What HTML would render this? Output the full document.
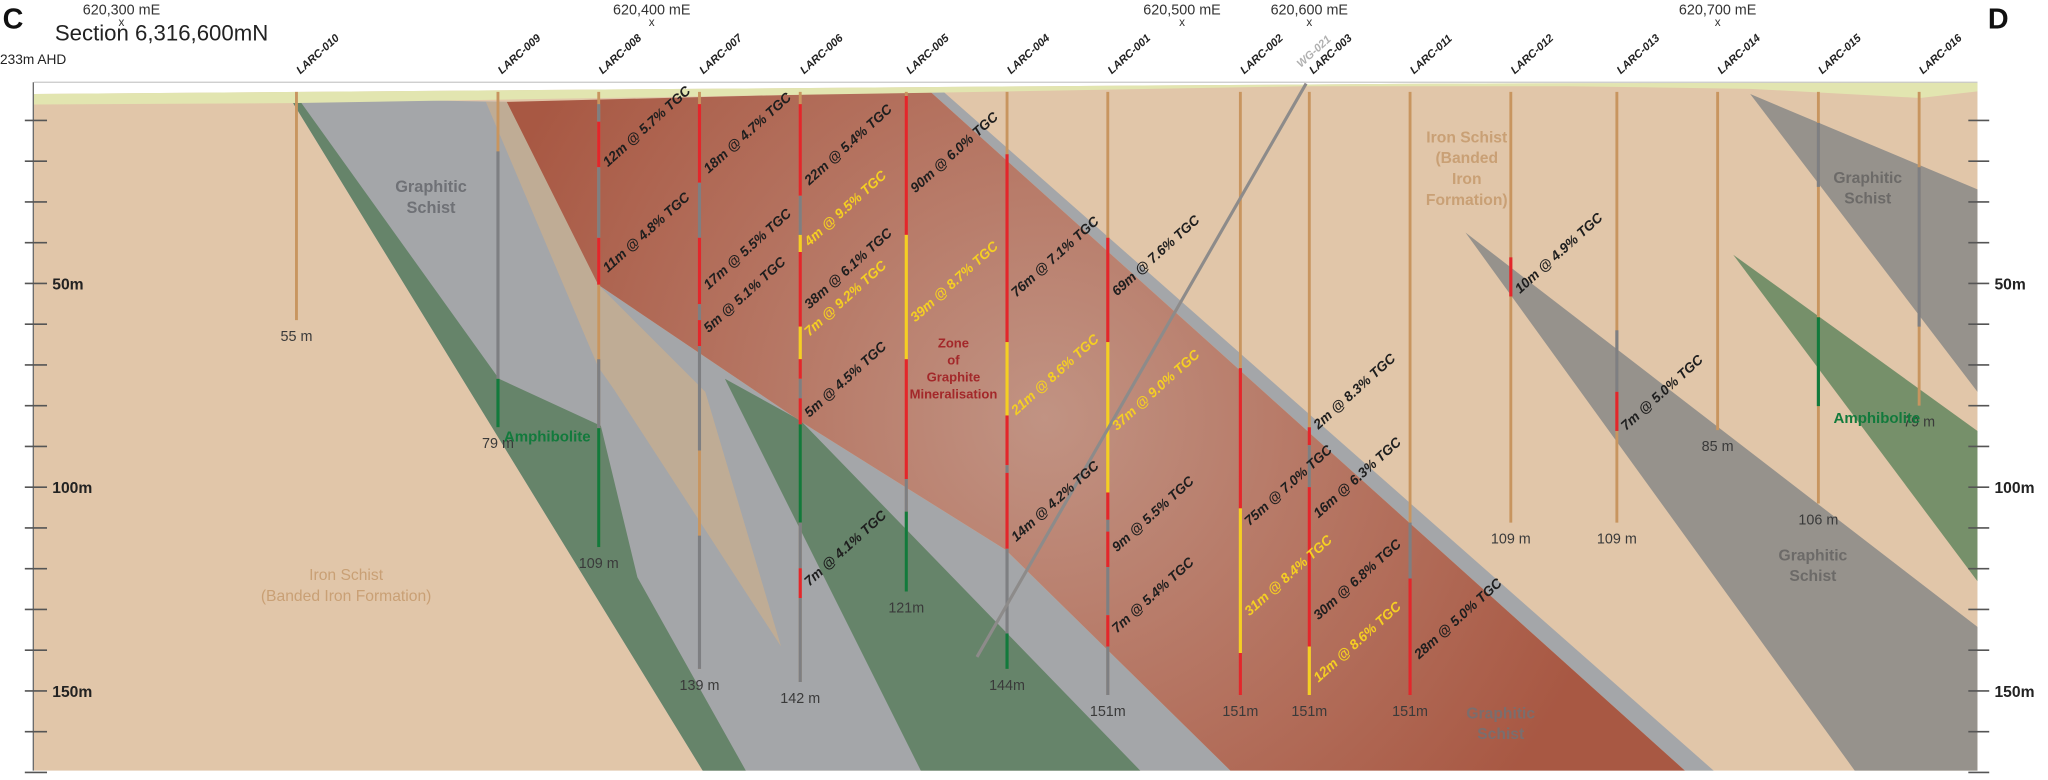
<!DOCTYPE html>
<html><head><meta charset="utf-8"><title>Section 6,316,600mN</title>
<style>
html,body{margin:0;padding:0;background:#fff;}
svg{display:block;}
text{font-family:"Liberation Sans",sans-serif;}
</style></head>
<body>
<svg id="sec" width="2048" height="780" viewBox="0 0 1568 597.2" preserveAspectRatio="none" xmlns="http://www.w3.org/2000/svg">
<defs>
<radialGradient id="redg" gradientUnits="userSpaceOnUse" cx="800" cy="320" r="450">
<stop offset="0" stop-color="#c19383"/><stop offset="0.55" stop-color="#b4725f"/><stop offset="1" stop-color="#a85843"/>
</radialGradient>
</defs>
<rect x="26" y="63" width="1488" height="527" fill="#e1c6a9"/>
<polygon fill="#a4a6a9" points="222,75 388,78 458,218 615,324 770,421 942,590 538,590"/>
<polygon fill="#66846a" points="222,75 228,75 382,290 460,326 488,442 571,590 538,590"/>
<polygon fill="#c4ad92" opacity="0.85" points="372,78 390,78 458,218 540,300 598,495 470,298 458,281"/>
<polygon fill="#66846a" points="555,290 613,322 873,590 705,590"/>
<polygon fill="#a4a6a9" points="712,70 722,70 1312,590 1290,590"/>
<polygon fill="url(#redg)" points="388,78 712,70 1290,590 942,590 770,421 615,324 458,218"/>
<polygon fill="#96928c" points="1122,178 1514,480 1514,590 1420,590"/>
<polygon fill="#76906a" points="1327,195 1514,330 1514,445"/>
<polygon fill="#96928c" points="1340,72 1514,145 1514,300"/>
<polygon fill="#ffffff" points="26,63 1514,63 1514,63 1100,64 800,66 400,69 26,72"/>
<polygon fill="#e2e5b0" points="26,72 400,69 800,66 1100,64 1514,63 1514,70 1470,75 1340,68 1200,66 1000,66 712,71 400,76 222,79 26,80"/>
<line x1="26" y1="63" x2="1514" y2="63" stroke="#c8c8c8" stroke-width="1"/>
<line x1="25.5" y1="63" x2="25.5" y2="590" stroke="#666" stroke-width="1"/>
<g id="ticks"></g>
<g id="holes"></g>
<line x1="1000" y1="64" x2="748" y2="503" stroke="#8d8b8a" stroke-width="2.4"/>
<g id="labels"></g>
<g font-weight="bold" text-anchor="middle">
<text x="330" y="147" font-size="12.5" fill="#6f7176">Graphitic</text>
<text x="330" y="163" font-size="12.5" fill="#6f7176">Schist</text>
<text x="419" y="338" font-size="11.5" fill="#127a3c">Amphibolite</text>
<text x="265" y="444" font-size="12" fill="#c9a075" font-weight="normal">Iron Schist</text>
<text x="265" y="460" font-size="12" fill="#c9a075" font-weight="normal">(Banded Iron Formation)</text>
<text x="730" y="266" font-size="10" fill="#a3282a">Zone</text>
<text x="730" y="279" font-size="10" fill="#a3282a">of</text>
<text x="730" y="292" font-size="10" fill="#a3282a">Graphite</text>
<text x="730" y="305" font-size="10" fill="#a3282a">Mineralisation</text>
<text x="1123" y="109" font-size="12" fill="#c9a075">Iron Schist</text>
<text x="1123" y="125" font-size="12" fill="#c9a075">(Banded</text>
<text x="1123" y="141" font-size="12" fill="#c9a075">Iron</text>
<text x="1123" y="157" font-size="12" fill="#c9a075">Formation)</text>
<text x="1430" y="140" font-size="12" fill="#6c6a68">Graphitic</text>
<text x="1430" y="156" font-size="12" fill="#6c6a68">Schist</text>
<text x="1388" y="429" font-size="12" fill="#6c6a68">Graphitic</text>
<text x="1388" y="445" font-size="12" fill="#6c6a68">Schist</text>
<text x="1149" y="550" font-size="12" fill="#7a6e6e">Graphitic</text>
<text x="1149" y="566" font-size="12" fill="#7a6e6e">Schist</text>
<text x="1437" y="324" font-size="11.5" fill="#127a3c">Amphibolite</text>
</g>
<g>
<text x="2" y="22" font-size="22" font-weight="bold" fill="#111">C</text>
<text x="1522" y="22" font-size="22" font-weight="bold" fill="#111">D</text>
<text x="42" y="31" font-size="17" fill="#222">Section 6,316,600mN</text>
<text x="0" y="49" font-size="10.5" fill="#222">233m AHD</text>
</g>
<g id="eastings" text-anchor="middle" font-size="11" fill="#333"></g>
</svg>
<script>
// chart data
const eastingLabels = ["620,300 mE","620,400 mE","620,500 mE","620,600 mE","620,700 mE"];
const eastingMarks = [620300, 620400, 620500, 620524, 620601];
const depthTicks = [10,20,30,40,50,60,70,80,90,100,110,120,130,140,150,160,170];
const depthTickLabels = {50:"50m",100:"100m",150:"150m"};
const holeNames = ["LARC-010","LARC-009","LARC-008","LARC-007","LARC-006","LARC-005","LARC-004","LARC-001","LARC-002","LARC-003","LARC-011","LARC-012","LARC-013","LARC-014","LARC-015","LARC-016"];
const holeEastings = [620333,620371,620390,620409,620428,620448,620467,620486,620511,620524,620543,620562,620582,620601,620620,620639];
const holeDepths = [59,85.3,114.7,144.6,147.8,125.6,144.6,151,151,151,151,108.7,108.7,86,104,80];
const holeDepthLabels = ["55 m","79 m","109 m","139 m","142 m","121m","144m","151m","151m","151m","151m","109 m","109 m","85 m","106 m","79 m"];
// segments: [holeIndex, from, to, type]
const segments = [
[1,17.6,73.4,"g"],[1,73.4,85.3,"a"],
[2,6,10.3,"g"],[2,10.3,21.5,"r"],[2,21.5,38.8,"g"],[2,38.8,50.3,"r"],[2,68.6,85.5,"g"],[2,85.5,114.7,"a"],
[3,6,25.3,"r"],[3,25.3,38.8,"g"],[3,38.8,55.1,"r"],[3,55.1,59,"g"],[3,59,65.4,"r"],[3,65.4,91,"g"],[3,111.9,144.6,"g"],
[4,6,28.5,"r"],[4,28.5,38.1,"g"],[4,38.1,42.3,"y"],[4,42.3,60.6,"r"],[4,60.6,68.6,"y"],[4,68.6,73.4,"r"],[4,73.4,78.2,"g"],[4,78.2,84.6,"r"],[4,84.6,108.7,"a"],[4,108.7,119.9,"g"],[4,119.9,127.2,"r"],[4,127.2,147.8,"g"],
[5,4,38.1,"r"],[5,38.1,68.6,"y"],[5,68.6,98,"r"],[5,98,106,"g"],[5,106,125.6,"a"],
[6,18.3,64.4,"r"],[6,64.4,82.4,"y"],[6,82.4,94.6,"r"],[6,94.6,96.5,"g"],[6,96.5,115.1,"r"],[6,115.1,135.9,"g"],[6,135.9,144.6,"a"],
[7,38.8,64.4,"r"],[7,64.4,101.3,"y"],[7,101.3,108,"r"],[7,108,110.9,"g"],[7,110.9,119.6,"r"],[7,119.6,131.4,"g"],[7,131.4,139.1,"r"],[7,139.1,151,"g"],
[8,70.8,105.2,"r"],[8,105.2,140.7,"y"],[8,140.7,151,"r"],
[9,85.3,89.7,"r"],[9,89.7,100,"g"],[9,100,139.1,"r"],[9,139.1,151,"y"],
[10,108.7,122.4,"g"],[10,122.4,151,"r"],
[11,43.6,53.2,"r"],
[12,61.5,76.6,"g"],[12,76.6,86.2,"r"],
[14,10.6,26.3,"g"],[14,58.3,80.1,"a"],
[15,21.5,60.6,"g"]
];
const interceptText = ["12m @ 5.7% TGC","11m @ 4.8% TGC","18m @ 4.7% TGC","17m @ 5.5% TGC","5m @ 5.1% TGC","22m @ 5.4% TGC","4m @ 9.5% TGC","38m @ 6.1% TGC","7m @ 9.2% TGC","5m @ 4.5% TGC","7m @ 4.1% TGC","90m @ 6.0% TGC","39m @ 8.7% TGC","76m @ 7.1% TGC","21m @ 8.6% TGC","14m @ 4.2% TGC","69m @ 7.6% TGC","37m @ 9.0% TGC","9m @ 5.5% TGC","7m @ 5.4% TGC","75m @ 7.0% TGC","31m @ 8.4% TGC","2m @ 8.3% TGC","16m @ 6.3% TGC","30m @ 6.8% TGC","12m @ 8.6% TGC","28m @ 5.0% TGC","10m @ 4.9% TGC","7m @ 5.0% TGC"];
const interceptHole = [2,2,3,3,3,4,4,4,4,4,4,5,5,6,6,6,7,7,7,7,8,8,9,9,9,9,10,11,12];
const interceptDepth = [21.5,47.4,23.1,51.6,62.2,26,41,56.4,63.1,83,124.4,27.9,59.6,53.5,82.4,113.5,53.2,86.2,116,135.9,109.6,131.7,85.9,107.7,132.7,148,142.3,52.6,86.2];
const interceptHigh = [0,0,0,0,0,0,1,0,1,0,0,0,1,0,1,0,0,1,0,0,0,1,0,0,0,1,0,0,0];

const NS="http://www.w3.org/2000/svg";
function xE(e){return 93+(e-620300)*4.06;}
function yD(d){return 61+d*3.12;}
const segColor={g:"#7e7f82",r:"#e3262b",y:"#f5cf23",a:"#127a3c"};
function mk(tag,attrs,parent){const el=document.createElementNS(NS,tag);for(const k in attrs)el.setAttribute(k,attrs[k]);parent.appendChild(el);return el;}

const tg=document.getElementById("ticks");
depthTicks.forEach(d=>{
  const y=yD(d);
  let t=mk("line",{x1:19,y1:y,x2:36,y2:y,stroke:"#555","stroke-width":1.2},tg);
  
  
  let t2=mk("line",{x1:1507,y1:y,x2:1523,y2:y,stroke:"#555","stroke-width":1.2},tg);
  
  
  if(depthTickLabels[d]){
    let l=mk("text",{x:40,y:y+4.5,"font-size":12,"font-weight":"bold",fill:"#222"},tg);
    l.textContent=depthTickLabels[d];
    
    
    let r=mk("text",{x:1527,y:y+4.5,"font-size":12,"font-weight":"bold",fill:"#222"},tg);
    r.textContent=depthTickLabels[d];
    
    
  }
});

const eg=document.getElementById("eastings");
eastingLabels.forEach((s,i)=>{
  const x=xE(eastingMarks[i]);
  let t=mk("text",{x:x,y:11},eg);t.textContent=s;
  
  
  let m=mk("text",{x:x,y:20,"font-size":9},eg);m.textContent="x";
  
  
});

const hg=document.getElementById("holes");
holeNames.forEach((n,i)=>{
  const x=xE(holeEastings[i]);
  let h=mk("line",{x1:x,y1:yD(3),x2:x,y2:yD(holeDepths[i]),stroke:"#c8955f","stroke-width":2.2},hg);
  
  
  let c=mk("text",{x:0,y:0,"font-size":8.5,"font-weight":"bold","font-style":"italic",fill:"#222",transform:"translate("+(x+3)+",57) rotate(-42)"},hg);
  c.textContent=n;
  
  
  let dl=mk("text",{x:x,y:yD(holeDepths[i])+16,"font-size":11,fill:"#3a3a3a","text-anchor":"middle"},hg);
  dl.textContent=holeDepthLabels[i];
  
  
});
let wl=mk("text",{x:0,y:0,"font-size":8.5,"font-weight":"bold","font-style":"italic",fill:"#b0b0b0",transform:"translate(996,52) rotate(-42)"},hg);
wl.textContent="WG-021";


segments.forEach(s=>{
  const x=xE(holeEastings[s[0]]);
  let l=mk("line",{x1:x,y1:yD(s[1]),x2:x,y2:yD(s[2]),stroke:segColor[s[3]],"stroke-width":2.4},hg);
  
  
});

const lg=document.getElementById("labels");
interceptText.forEach((s,i)=>{
  const x=xE(holeEastings[interceptHole[i]])+7, y=yD(interceptDepth[i]);
  let t=mk("text",{x:0,y:0,"font-size":10.5,"font-weight":"bold","font-style":"italic",fill:interceptHigh[i]?"#f5cf23":"#1e1e1e",transform:"translate("+x+","+y+") rotate(-42)"},lg);
  t.textContent=s;
  
  
});
</script>
</body></html>
